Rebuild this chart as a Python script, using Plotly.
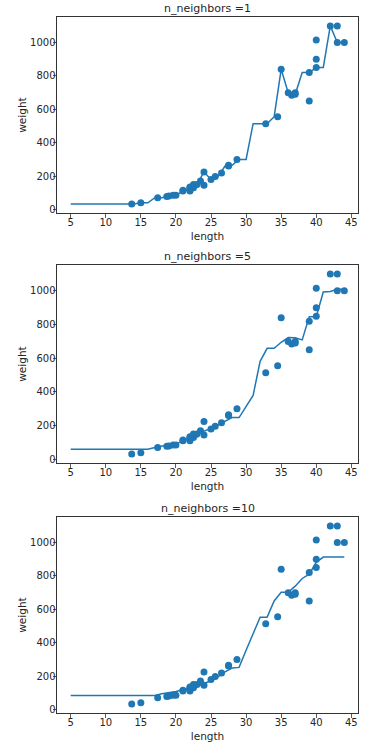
import plotly.graph_objects as go

# training data (length, weight)
train_length = [13.7, 15.0, 17.4, 18.7, 19.0, 19.6, 20.0, 21.0, 21.0, 22.0, 22.0,
                22.0, 22.0, 22.0, 22.5, 22.5, 22.7, 23.0, 23.5, 24.0, 24.0, 25.0,
                25.6, 26.5, 27.5, 27.5, 28.7, 32.8, 34.5, 35.0, 36.5, 36.0, 37.0,
                37.0, 39.0, 39.0, 40.0, 40.0, 40.0, 42.0, 43.0, 43.0, 44.0]
train_weight = [32, 40, 70, 78, 80, 85, 85, 110, 115, 120, 120,
                130, 135, 110, 130, 150, 145, 150, 170, 225, 145, 180,
                197, 218, 260, 265, 300, 514, 556, 840, 685, 700, 700,
                690, 650, 820, 850, 900, 1015, 1100, 1000, 1100, 1000]

# prediction grid
grid_x = [5, 6, 7, 8, 9, 10, 11, 12, 13, 14, 15, 16, 17, 18, 19, 20, 21, 22, 23, 24,
          25, 26, 27, 28, 29, 30, 31, 32, 33, 34, 35, 36, 37, 38, 39, 40, 41, 42, 43, 44]

pred_k1 = [32, 32, 32, 32, 32, 32, 32, 32, 32, 32, 40, 40, 70, 70, 80, 85, 110, 120, 150, 225,
           180, 197, 260, 265, 300, 300, 514, 514, 514, 556, 840, 700, 690, 820, 820, 850, 850, 1100, 1000, 1000]
pred_k5 = [60, 60, 60, 60, 60, 60, 60, 60, 60, 60, 60, 60, 70, 80, 80, 92, 110, 124, 145, 168,
           183, 205, 230, 248, 248, 311, 380, 582, 659, 659, 695, 723, 722, 709, 847, 847, 993, 996, 1010, 1010]
pred_k10 = [84, 84, 84, 84, 84, 84, 84, 84, 84, 84, 84, 84, 84, 94, 100, 108, 118, 128, 138, 155,
            172, 195, 225, 248, 252, 355, 455, 553, 553, 650, 702, 702, 739, 785, 811, 882, 913, 913, 913, 913]

titles = ["n_neighbors =1", "n_neighbors =5", "n_neighbors =10"]
preds = [pred_k1, pred_k5, pred_k10]

x_ticks = [5, 10, 15, 20, 25, 30, 35, 40, 45]
y_ticks = [0, 200, 400, 600, 800, 1000]

W, H = 392, 753
BLUE = "#1f77b4"
FONT = "DejaVu Sans"
TXT = "#262626"

# axes boxes in page pixels (left, right, top, bottom)
boxes = [(57, 358, 17, 213), (57, 358, 265, 463), (57, 358, 517, 713)]

fig = go.Figure()
annotations = []
for i, (title, pred) in enumerate(zip(titles, preds)):
    n = "" if i == 0 else str(i + 1)
    xa, ya = "x" + n, "y" + n
    fig.add_trace(go.Scatter(x=train_length, y=train_weight, mode="markers",
                             marker=dict(color=BLUE, size=7, line=dict(width=0)),
                             xaxis=xa, yaxis=ya, showlegend=False, hoverinfo="skip"))
    fig.add_trace(go.Scatter(x=grid_x, y=pred, mode="lines",
                             line=dict(color=BLUE, width=1.5),
                             xaxis=xa, yaxis=ya, showlegend=False, hoverinfo="skip"))
    l, r, t, b = boxes[i]
    xd = [l / W, r / W]
    yd = [1 - b / H, 1 - t / H]
    axis_common = dict(showgrid=False, zeroline=False, showline=True, mirror=True,
                       linecolor="#333333", linewidth=1, ticks="outside", ticklen=3.5,
                       tickwidth=0.8, tickcolor="#333333", automargin=False,
                       tickfont=dict(family=FONT, size=10, color=TXT))
    fig.layout["xaxis" + n] = dict(domain=xd, anchor=ya, range=[3.05, 45.95],
                                   tickvals=x_ticks, ticktext=[str(v) for v in x_ticks],
                                   ticklabelstandoff=-4,
                                   title=dict(text="length", font=dict(family=FONT, size=10.5, color=TXT),
                                              standoff=6),
                                   **axis_common)
    fig.layout["yaxis" + n] = dict(domain=yd, anchor=xa, range=[-21.4, 1153.4],
                                   tickvals=y_ticks, ticktext=[str(v) for v in y_ticks],
                                   ticklabelstandoff=-5,
                                   title=dict(text="weight", font=dict(family=FONT, size=10.5, color=TXT),
                                              standoff=1),
                                   **axis_common)
    annotations.append(dict(text=title, xref="paper", yref="paper",
                            x=(l + r) / 2 / W, y=1 - t / H, xanchor="center", yanchor="bottom",
                            yshift=0, showarrow=False,
                            font=dict(family=FONT, size=11, color=TXT)))

fig.update_layout(width=W, height=H, margin=dict(l=0, r=0, t=0, b=0),
                  paper_bgcolor="white", plot_bgcolor="white",
                  annotations=annotations, showlegend=False, hovermode=False)

# remove the browser's default body margin so the figure fills the window exactly
fig.write_html("out.html", config={"displayModeBar": False, "staticPlot": True},
               post_script="document.body.style.margin='0px';")
